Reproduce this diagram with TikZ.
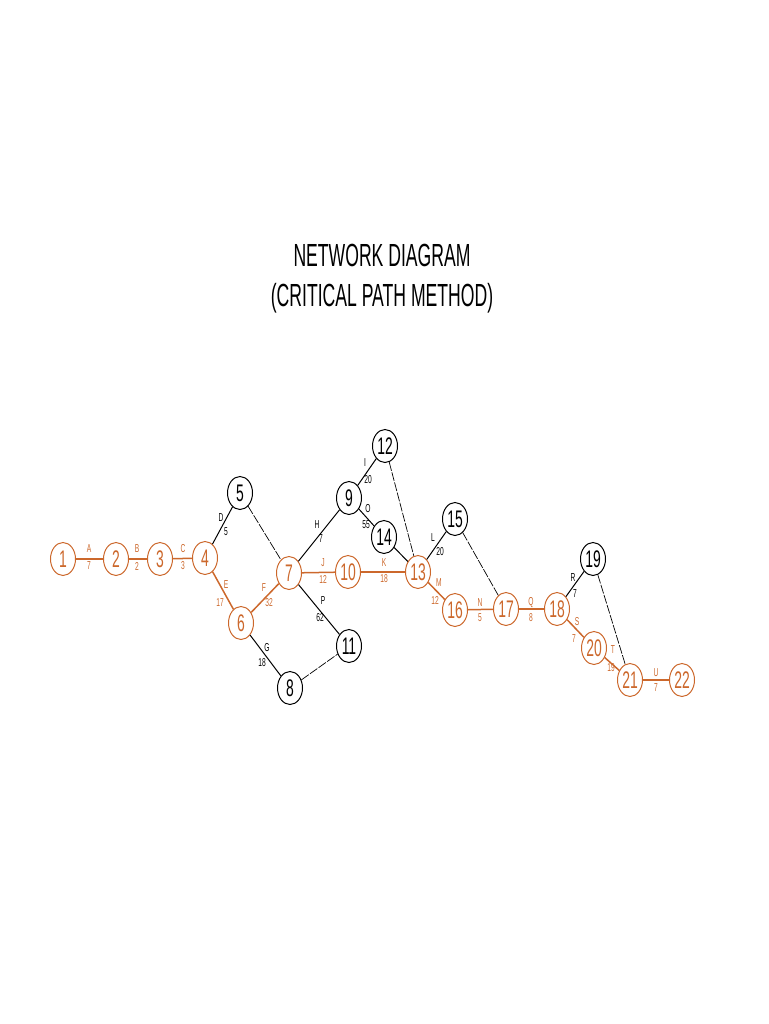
\documentclass[tikz,border=0pt]{standalone}
\usepackage{fontspec}
\setmainfont{Liberation Sans}
\newfontfamily\condfont[FakeStretch=0.58]{Liberation Sans}
\newfontfamily\titlefont[FakeStretch=0.55]{Liberation Sans}
\usetikzlibrary{shapes.geometric}
\definecolor{critorange}{RGB}{204,104,44}

\begin{document}
\begin{tikzpicture}[x=1pt,y=-1pt,
  event/.style={ellipse,draw,line width=1pt,minimum width=25pt,minimum height=33pt,inner sep=0pt,fill=white,font=\condfont\fontsize{24}{24}\selectfont},
  critev/.style={event,draw=critorange,text=critorange},
  act/.style={line width=1pt},
  crit/.style={line width=1.5pt,draw=critorange},
  dummy/.style={line width=0.7pt,dash pattern=on 9pt off 1.5pt},
  lbl/.style={inner sep=0pt,font=\condfont\fontsize{11.5}{11.5}\selectfont},
  critlbl/.style={lbl,text=critorange}]

\useasboundingbox (0,0) rectangle (768,1024);

% Title
\node[font=\titlefont\fontsize{32}{32}\selectfont] (title1) at (382,255) {NETWORK DIAGRAM};
\node[font=\titlefont\fontsize{32}{32}\selectfont] (title2) at (382,298) {(CRITICAL PATH METHOD)};

% Event positions
\coordinate (c1) at (63,559);   \coordinate (c2) at (116,559);
\coordinate (c3) at (160,559);  \coordinate (c4) at (205,558);
\coordinate (c5) at (240,493);  \coordinate (c6) at (241,623);
\coordinate (c7) at (289,573);  \coordinate (c8) at (290,688);
\coordinate (c9) at (349,498);  \coordinate (c10) at (348,572);
\coordinate (c11) at (349,646); \coordinate (c12) at (385,446);
\coordinate (c13) at (418,572); \coordinate (c14) at (384,537);
\coordinate (c15) at (455,519); \coordinate (c16) at (455,610);
\coordinate (c17) at (506,609); \coordinate (c18) at (557,609);
\coordinate (c19) at (593,559); \coordinate (c20) at (594,648);
\coordinate (c21) at (630,680); \coordinate (c22) at (682,680);

% Events on the critical path
\node[critev] (n1) at (c1) {1};
\node[critev] (n2) at (c2) {2};
\node[critev] (n3) at (c3) {3};
\node[critev] (n4) at (c4) {4};
\node[critev] (n6) at (c6) {6};
\node[critev] (n7) at (c7) {7};
\node[critev] (n10) at (c10) {10};
\node[critev] (n13) at (c13) {13};
\node[critev] (n16) at (c16) {16};
\node[critev] (n17) at (c17) {17};
\node[critev] (n18) at (c18) {18};
\node[critev] (n20) at (c20) {20};
\node[critev] (n21) at (c21) {21};
\node[critev] (n22) at (c22) {22};

% Other events
\node[event] (n5) at (c5) {5};
\node[event] (n8) at (c8) {8};
\node[event] (n9) at (c9) {9};
\node[event] (n11) at (c11) {11};
\node[event] (n12) at (c12) {12};
\node[event] (n14) at (c14) {14};
\node[event] (n15) at (c15) {15};
\node[event] (n19) at (c19) {19};

% Critical activities
\draw[crit] (n1) -- (n2);
\draw[crit] (n2) -- (n3);
\draw[crit] (n3) -- (n4);
\draw[crit] (n4) -- (n6);
\draw[crit] (n6) -- (n7);
\draw[crit] (n7) -- (n10);
\draw[crit] (n10) -- (n13);
\draw[crit] (n13) -- (n16);
\draw[crit] (n16) -- (n17);
\draw[crit] (n17) -- (n18);
\draw[crit] (n18) -- (n20);
\draw[crit] (n20) -- (n21);
\draw[crit] (n21) -- (n22);

% Other activities
\draw[act] (n4) -- (n5);
\draw[act] (n6) -- (n8);
\draw[act] (n7) -- (n9);
\draw[act] (n7) -- (n11);
\draw[act] (n9) -- (n12);
\draw[act] (n9) -- (n14);
\draw[act] (n14) -- (n13);
\draw[act] (n13) -- (n15);
\draw[act] (n18) -- (n19);

% Dummies
\draw[dummy] (n5) -- (n7);
\draw[dummy] (n8) -- (n11);
\draw[dummy] (n12) -- (n13);
\draw[dummy] (n15) -- (n17);
\draw[dummy] (n19) -- (n21);

% Activity labels
\node[critlbl] at (89,549) {A};  \node[critlbl] at (89,566) {7};
\node[critlbl] at (137,549) {B}; \node[critlbl] at (137,566) {2};
\node[critlbl] at (183,549) {C}; \node[critlbl] at (183,566) {3};
\node[lbl] at (221,518) {D};     \node[lbl] at (226,532) {5};
\node[critlbl] at (226,585) {E}; \node[critlbl] at (220,603) {17};
\node[critlbl] at (264,588) {F}; \node[critlbl] at (269,603) {32};
\node[lbl] at (267,648) {G};     \node[lbl] at (262,663) {18};
\node[lbl] at (317,525) {H};     \node[lbl] at (321,539) {7};
\node[lbl] at (365,463) {I};     \node[lbl] at (368,480) {20};
\node[critlbl] at (323,563) {J}; \node[critlbl] at (323,579) {12};
\node[critlbl] at (384,563) {K}; \node[critlbl] at (384,579) {18};
\node[lbl] at (433,538) {L};     \node[lbl] at (440,552) {20};
\node[critlbl] at (439,583) {M}; \node[critlbl] at (435,600) {12};
\node[critlbl] at (480,603) {N}; \node[critlbl] at (480,618) {5};
\node[lbl] at (368,509) {O};     \node[lbl] at (366,525) {55};
\node[lbl] at (323,601) {P};     \node[lbl] at (320,618) {62};
\node[critlbl] at (531,603) {Q}; \node[critlbl] at (531,618) {8};
\node[lbl] at (573,578) {R};     \node[lbl] at (575,594) {7};
\node[critlbl] at (577,622) {S}; \node[critlbl] at (574,639) {7};
\node[critlbl] at (613,650) {T}; \node[critlbl] at (611,668) {19};
\node[critlbl] at (656,673) {U}; \node[critlbl] at (656,688) {7};

\end{tikzpicture}
\end{document}
